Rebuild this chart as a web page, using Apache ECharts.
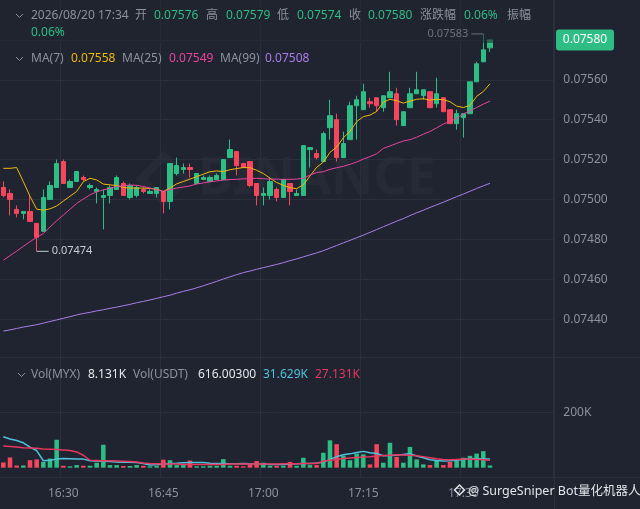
<!DOCTYPE html>
<html><head><meta charset="utf-8">
<script src="https://cdn.jsdelivr.net/npm/echarts@6/dist/echarts.min.js"></script>
<style>html,body{margin:0;padding:0;background:#1f2430;}#c{width:640px;height:509px;}</style>
</head><body><div id="c"></div>
<script>
// ---------- data ----------
const times = ['16:21','16:22','16:23','16:24','16:25','16:26','16:27','16:28','16:29','16:30','16:31','16:32','16:33','16:34','16:35','16:36','16:37','16:38','16:39','16:40','16:41','16:42','16:43','16:44','16:45','16:46','16:47','16:48','16:49','16:50','16:51','16:52','16:53','16:54','16:55','16:56','16:57','16:58','16:59','17:00','17:01','17:02','17:03','17:04','17:05','17:06','17:07','17:08','17:09','17:10','17:11','17:12','17:13','17:14','17:15','17:16','17:17','17:18','17:19','17:20','17:21','17:22','17:23','17:24','17:25','17:26','17:27','17:28','17:29','17:30','17:31','17:32','17:33','17:34','17:35','17:36','17:37','17:38','17:39','17:40','17:41','17:42','17:43'];
// [open, close, low, high]
const ohlc = [
[0.07506,0.07502,0.07501,0.07509],[0.07503,0.07500,0.07492,0.07505],[0.07495,0.07493,0.07491,0.07497],[0.07493,0.07494,0.07490,0.07494],
[0.07494,0.07489,0.07489,0.07502],[0.07488,0.07481,0.07474,0.07488],[0.07484,0.07501,0.07484,0.07505],[0.07500,0.07507,0.07500,0.07509],
[0.07506,0.07518,0.07506,0.07520],[0.07519,0.07508,0.07508,0.07520],[0.07506,0.07509,0.07506,0.07510],[0.07509,0.07514,0.07509,0.07514],
[0.07511,0.07510,0.07509,0.07512],[0.07506,0.07507,0.07505,0.07508],[0.07504,0.07505,0.07498,0.07506],[0.07501,0.07502,0.07485,0.07505],
[0.07502,0.07506,0.07498,0.07507],[0.07505,0.07511,0.07505,0.07512],[0.07508,0.07502,0.07502,0.07509],[0.07501,0.07507,0.07500,0.07508],
[0.07502,0.07506,0.07501,0.07507],[0.07505,0.07504,0.07503,0.07506],[0.07503,0.07504,0.07503,0.07505],[0.07503,0.07506,0.07501,0.07506],
[0.07504,0.07499,0.07493,0.07504],[0.07499,0.07518,0.07495,0.07518],[0.07513,0.07517,0.07512,0.07521],[0.07515,0.07516,0.07513,0.07518],
[0.07516,0.07515,0.07511,0.07518],[0.07508,0.07513,0.07508,0.07513],[0.07510,0.07511,0.07510,0.07512],[0.07509,0.07511,0.07509,0.07512],
[0.07510,0.07512,0.07510,0.07513],[0.07510,0.07520,0.07510,0.07520],[0.07521,0.07525,0.07521,0.07530],[0.07524,0.07517,0.07512,0.07524],
[0.07518,0.07516,0.07516,0.07518],[0.07519,0.07507,0.07506,0.07519],[0.07508,0.07502,0.07497,0.07508],[0.07502,0.07503,0.07497,0.07506],
[0.07502,0.07509,0.07500,0.07511],[0.07505,0.07501,0.07499,0.07506],[0.07501,0.07510,0.07501,0.07510],[0.07508,0.07504,0.07497,0.07508],
[0.07502,0.07503,0.07502,0.07505],[0.07502,0.07527,0.07502,0.07527],[0.07525,0.07526,0.07516,0.07526],[0.07523,0.07521,0.07520,0.07525],
[0.07519,0.07533,0.07519,0.07534],[0.07536,0.07542,0.07530,0.07550],[0.07540,0.07521,0.07519,0.07543],[0.07521,0.07528,0.07521,0.07534],
[0.07530,0.07547,0.07530,0.07549],[0.07547,0.07550,0.07530,0.07552],[0.07545,0.07554,0.07545,0.07558],[0.07549,0.07548,0.07546,0.07551],
[0.07551,0.07547,0.07544,0.07551],[0.07546,0.07552,0.07544,0.07552],[0.07551,0.07554,0.07551,0.07564],[0.07553,0.07540,0.07537,0.07556],
[0.07537,0.07544,0.07537,0.07544],[0.07546,0.07553,0.07546,0.07556],[0.07553,0.07555,0.07553,0.07564],[0.07552,0.07555,0.07550,0.07555],
[0.07554,0.07546,0.07546,0.07554],[0.07548,0.07553,0.07546,0.07561],[0.07551,0.07544,0.07544,0.07551],[0.07545,0.07538,0.07538,0.07545],
[0.07538,0.07543,0.07535,0.07545],[0.07541,0.07543,0.07531,0.07543],[0.07543,0.07559,0.07543,0.07559],[0.07559,0.07568,0.07559,0.07569],
[0.07569,0.07575,0.07569,0.07583],[0.07576,0.07580,0.07574,0.07579]
];
const ma7 = [0.075156,0.075156,0.075160,0.075089,0.075016,0.074951,0.074946,0.074953,0.074967,0.074992,0.075016,0.075040,0.075089,0.075106,0.075098,0.075077,0.075073,0.075070,0.075060,0.075057,0.075057,0.075057,0.075055,0.075051,0.075040,0.075057,0.075078,0.075090,0.075102,0.075114,0.075127,0.075139,0.075143,0.075140,0.075149,0.075155,0.075160,0.075159,0.075146,0.075130,0.075107,0.075085,0.075071,0.075059,0.075054,0.075073,0.075117,0.075161,0.075187,0.075236,0.075263,0.075309,0.075341,0.075390,0.075415,0.075423,0.075441,0.075488,0.075502,0.075495,0.075483,0.075493,0.075502,0.075505,0.075498,0.075502,0.075500,0.075490,0.075468,0.075461,0.075471,0.075517,0.075541,0.075580];
const ma25 = [0.074695,0.074718,0.074741,0.074765,0.074788,0.074810,0.074829,0.074862,0.074893,0.074922,0.074951,0.074980,0.075002,0.075023,0.075038,0.075048,0.075056,0.075065,0.075069,0.075072,0.075071,0.075065,0.075057,0.075049,0.075040,0.075049,0.075057,0.075062,0.075068,0.075077,0.075083,0.075088,0.075093,0.075097,0.075100,0.075101,0.075103,0.075105,0.075106,0.075104,0.075102,0.075102,0.075101,0.075101,0.075102,0.075106,0.075122,0.075135,0.075139,0.075151,0.075159,0.075166,0.075176,0.075188,0.075202,0.075215,0.075229,0.075256,0.075268,0.075281,0.075293,0.075300,0.075312,0.075327,0.075341,0.075359,0.075378,0.075391,0.075405,0.075429,0.075444,0.075461,0.075478,0.075493];
const ma99 = [0.074340,0.074346,0.074353,0.074360,0.074366,0.074372,0.074380,0.074388,0.074396,0.074404,0.074412,0.074421,0.074428,0.074434,0.074441,0.074447,0.074454,0.074460,0.074467,0.074474,0.074482,0.074489,0.074496,0.074504,0.074512,0.074520,0.074530,0.074539,0.074547,0.074557,0.074567,0.074578,0.074589,0.074601,0.074612,0.074623,0.074633,0.074641,0.074650,0.074658,0.074666,0.074674,0.074683,0.074693,0.074702,0.074712,0.074722,0.074732,0.074743,0.074756,0.074769,0.074782,0.074795,0.074808,0.074821,0.074835,0.074849,0.074863,0.074877,0.074891,0.074904,0.074919,0.074933,0.074946,0.074960,0.074973,0.074986,0.075000,0.075014,0.075027,0.075041,0.075055,0.075068,0.075081];
// volume in K
const volume = [19,37,8,8,27,30,21,33,101,7,5,9.5,7,7,18,83,9.5,9.5,6,6,9.5,7,5,6,29,27,9.5,9.5,26,5,5,7,7,31,7,7,5,12,24,18,7,7,7,21,7,36,9.5,9.5,54,99,85,43,27,51,48,12,85,18,90,39,18,75,30,12,9.5,27,9.5,21,27,36,43,51,60,8.131];
const volMaA = [112,104,98,90,74,62,25,27,31,33,32,31,31,25,24,23,22,21,20,20,19,15,10,11,13,15,16,18,19,19,19,16,15,15,14,14,15,14,13,13,12,12,12,13,14,15,15,17,20,30,40,47,50,55,59,54,51,43,44,45,48,51,42,36,29,26,24,25,27,30,33,32,31,31.629];
const volMaB = [78,77,75,72,71,70,68,67,66,64,62,57,45,27,26,25,25,24,23,22,21,17,15,14,13,13,13,12,12,12,12,12,12,12,13,13,13,13,13,13,13,13,14,14,14,15,15,15,23,27,30,33,35,37,39,40,42,44,45,47,46,45,43,40,36,32,30,29,30,31,31,30,29,27.131];
const headerTime = '2026/08/20 17:34';
const headerLabels = ['开','高','低','收','涨跌幅','振幅'];
const headerValues = ['0.07576','0.07579','0.07574','0.07580','0.06%','0.06%'];
const maLabels = ['MA(7)','MA(25)','MA(99)'];
const maValues = ['0.07558','0.07549','0.07508'];
const volLabels = ['Vol(MYX)','Vol(USDT)'];
const volValues = ['8.131K','616.00300','31.629K','27.131K'];
const credit = '@ SurgeSniper Bot量化机器人';

// ---------- style ----------
const UP='#2ebd85', DOWN='#f6465d', BG='#1f2430', GRID='#2a2f3b', TXT='#8a929d';
const C7='#f0b90b', C25='#e6449e', C99='#a97ee8', CVA='#4fc3dc', CVB='#e8365e';
const FONT='"Noto Sans","Noto Sans CJK SC",sans-serif';
function T(x,y,text,fill,size,extra){
  return Object.assign({type:'text',x:x,y:y,z:120,silent:true,
    style:{text:text,fill:fill,font:(size||12)+'px '+FONT,verticalAlign:'middle',align:'left'}},extra||{});
}
function chevron(x,y){
  return {type:'polyline',z:120,silent:true,shape:{points:[[x,y-2],[x+3.5,y+1.5],[x+7,y-2]]},style:{stroke:TXT,lineWidth:1,fill:null}};
}
const quarter = (idx,val)=> parseInt(val.split(':')[1],10)%15===0;

const graphics = [
  {type:'text',x:198,y:179,z:0,silent:true,style:{text:'BINANCE',fill:'rgba(255,255,255,0.03)',font:'bold 52px '+FONT,verticalAlign:'middle',align:'left'}},
  {type:'rect',x:164,y:179,rotation:Math.PI/4,z:0,silent:true,shape:{x:-16,y:-16,width:32,height:32},style:{fill:null,stroke:'rgba(255,255,255,0.03)',lineWidth:8}},
  {type:'rect',z:110,silent:true,shape:{x:0,y:0,width:553,height:43},style:{fill:'rgba(31,36,48,0.55)'}},
  {type:'line',z:1,silent:true,shape:{x1:0,y1:357.5,x2:640,y2:357.5},style:{stroke:GRID,lineWidth:1}},
  {type:'line',z:1,silent:true,shape:{x1:0,y1:477.5,x2:640,y2:477.5},style:{stroke:GRID,lineWidth:1}},
  {type:'line',z:1,silent:true,shape:{x1:554.5,y1:0,x2:554.5,y2:509},style:{stroke:GRID,lineWidth:1}},
  chevron(16,16), chevron(16,59), chevron(18,375),
  T(31,16,headerTime,TXT),
  T(135,16,headerLabels[0],TXT), T(154,16,headerValues[0],UP),
  T(206,16,headerLabels[1],TXT), T(226,16,headerValues[1],UP),
  T(277,16,headerLabels[2],TXT), T(297,16,headerValues[2],UP),
  T(349,16,headerLabels[3],TXT), T(368,16,headerValues[3],UP),
  T(420,16,headerLabels[4],TXT), T(464,16,headerValues[4],UP),
  T(507,16,headerLabels[5],TXT), T(31,33,headerValues[5],UP),
  T(31,59,maLabels[0],TXT), T(71,59,maValues[0],C7),
  T(122,59,maLabels[1],TXT), T(169,59,maValues[1],C25),
  T(220,59,maLabels[2],TXT), T(265,59,maValues[2],C99),
  T(31,375,volLabels[0],TXT), T(88,375,volValues[0],'#e6e8ea'),
  T(133,375,volLabels[1],TXT), T(198,375,volValues[1],'#e6e8ea'),
  T(263,375,volValues[2],CVA), T(315,375,volValues[3],CVB),
  {type:'rect',x:459.5,y:490,rotation:Math.PI/4,z:120,silent:true,shape:{x:-3.5,y:-3.5,width:7,height:7},style:{fill:null,stroke:'#e3e5e8',lineWidth:1.5}},
  T(468,491,credit,'#e3e5e8',12.5)
];

const chart = echarts.init(document.getElementById('c'));
chart.setOption({
  backgroundColor: BG,
  animation: false,
  grid: [
    {left:0, right:86.7, top:-10, height:369},
    {left:0, right:86.7, top:357, height:110.7},
    {left:0, right:86.7, top:0, height:477.5}
  ],
  xAxis: [
    {type:'category',gridIndex:0,data:times,boundaryGap:true,axisLine:{show:false},axisTick:{show:false},axisLabel:{show:false},splitLine:{show:false}},
    {type:'category',gridIndex:1,data:times,boundaryGap:true,axisLine:{show:false},axisTick:{show:false},
      axisLabel:{show:true,interval:quarter,color:TXT,fontSize:12,fontFamily:FONT,margin:20},splitLine:{show:false}},
    {type:'category',gridIndex:2,data:times,boundaryGap:true,axisLine:{show:false},axisTick:{show:false},axisLabel:{show:false},
      splitLine:{show:true,interval:quarter,lineStyle:{color:GRID,width:1}}}
  ],
  yAxis: [
    {type:'value',gridIndex:0,position:'right',min:0.0742,max:0.0760,interval:0.0002,
      axisLine:{show:false},axisTick:{show:false},
      axisLabel:{color:TXT,fontSize:12,fontFamily:FONT,margin:10,formatter:v=>v.toFixed(5),showMinLabel:false,showMaxLabel:false},
      splitLine:{show:true,showMinLine:false,showMaxLine:false,lineStyle:{color:GRID,width:1}}},
    {type:'value',gridIndex:1,position:'right',min:0,max:400,interval:200,
      axisLine:{show:false},axisTick:{show:false},
      axisLabel:{color:TXT,fontSize:12,fontFamily:FONT,margin:10,formatter:v=>v+'K',showMinLabel:false,showMaxLabel:false},
      splitLine:{show:true,showMinLine:false,showMaxLine:false,lineStyle:{color:GRID,width:1}}},
    {type:'value',gridIndex:2,show:false,min:0,max:1}
  ],
  series: [
    {type:'candlestick',name:'K',xAxisIndex:0,yAxisIndex:0,data:ohlc,barWidth:'72%',z:3,
      itemStyle:{color:UP,color0:DOWN,borderColor:UP,borderColor0:DOWN,borderWidth:1},
      markPoint:{silent:true,symbol:'rect',symbolSize:[12,1],animation:false,
        itemStyle:{color:'#c7cbd1'},
        label:{color:'#c7cbd1',fontSize:11,fontFamily:FONT},
        data:[
          {type:'max',valueDim:'highest',symbolOffset:[-6,0],label:{position:'left',distance:3,formatter:p=>Number(p.value).toFixed(5)}},
          {type:'min',valueDim:'lowest',symbolOffset:[6,0],label:{position:'right',distance:3,formatter:p=>Number(p.value).toFixed(5)}}
        ]}
    },
    {type:'line',name:'MA7',xAxisIndex:0,yAxisIndex:0,data:ma7,showSymbol:false,symbol:'none',z:4,lineStyle:{color:C7,width:1}},
    {type:'line',name:'MA25',xAxisIndex:0,yAxisIndex:0,data:ma25,showSymbol:false,symbol:'none',z:4,lineStyle:{color:C25,width:1}},
    {type:'line',name:'MA99',xAxisIndex:0,yAxisIndex:0,data:ma99,showSymbol:false,symbol:'none',z:4,lineStyle:{color:C99,width:1}},
    {type:'bar',name:'Vol',xAxisIndex:1,yAxisIndex:1,data:volume,barWidth:'68%',
      itemStyle:{color:p=> ohlc[p.dataIndex][1]>=ohlc[p.dataIndex][0]?UP:DOWN}},
    {type:'line',name:'VolMA5',xAxisIndex:1,yAxisIndex:1,data:volMaA,showSymbol:false,symbol:'none',lineStyle:{color:CVA,width:1.5}},
    {type:'line',name:'VolMA10',xAxisIndex:1,yAxisIndex:1,data:volMaB,showSymbol:false,symbol:'none',lineStyle:{color:CVB,width:1.5}}
  ],
  graphic: graphics
});

// current-price tag placed through the price axis scale
const lastClose = ohlc[ohlc.length-1][1];
const py = chart.convertToPixel({yAxisIndex:0}, lastClose);
const tag = [
  {type:'rect',id:'tagBox',z:130,silent:true,x:556,y:py,shape:{x:0,y:-10.5,width:58,height:21,r:3},style:{fill:UP}},
  {type:'text',id:'tagTxt',z:131,silent:true,x:585,y:py,style:{text:lastClose.toFixed(5),fill:'#ffffff',font:'12px '+FONT,align:'center',verticalAlign:'middle'}}
];
chart.setOption({graphic: graphics.concat(tag)});
</script>
</body></html>
